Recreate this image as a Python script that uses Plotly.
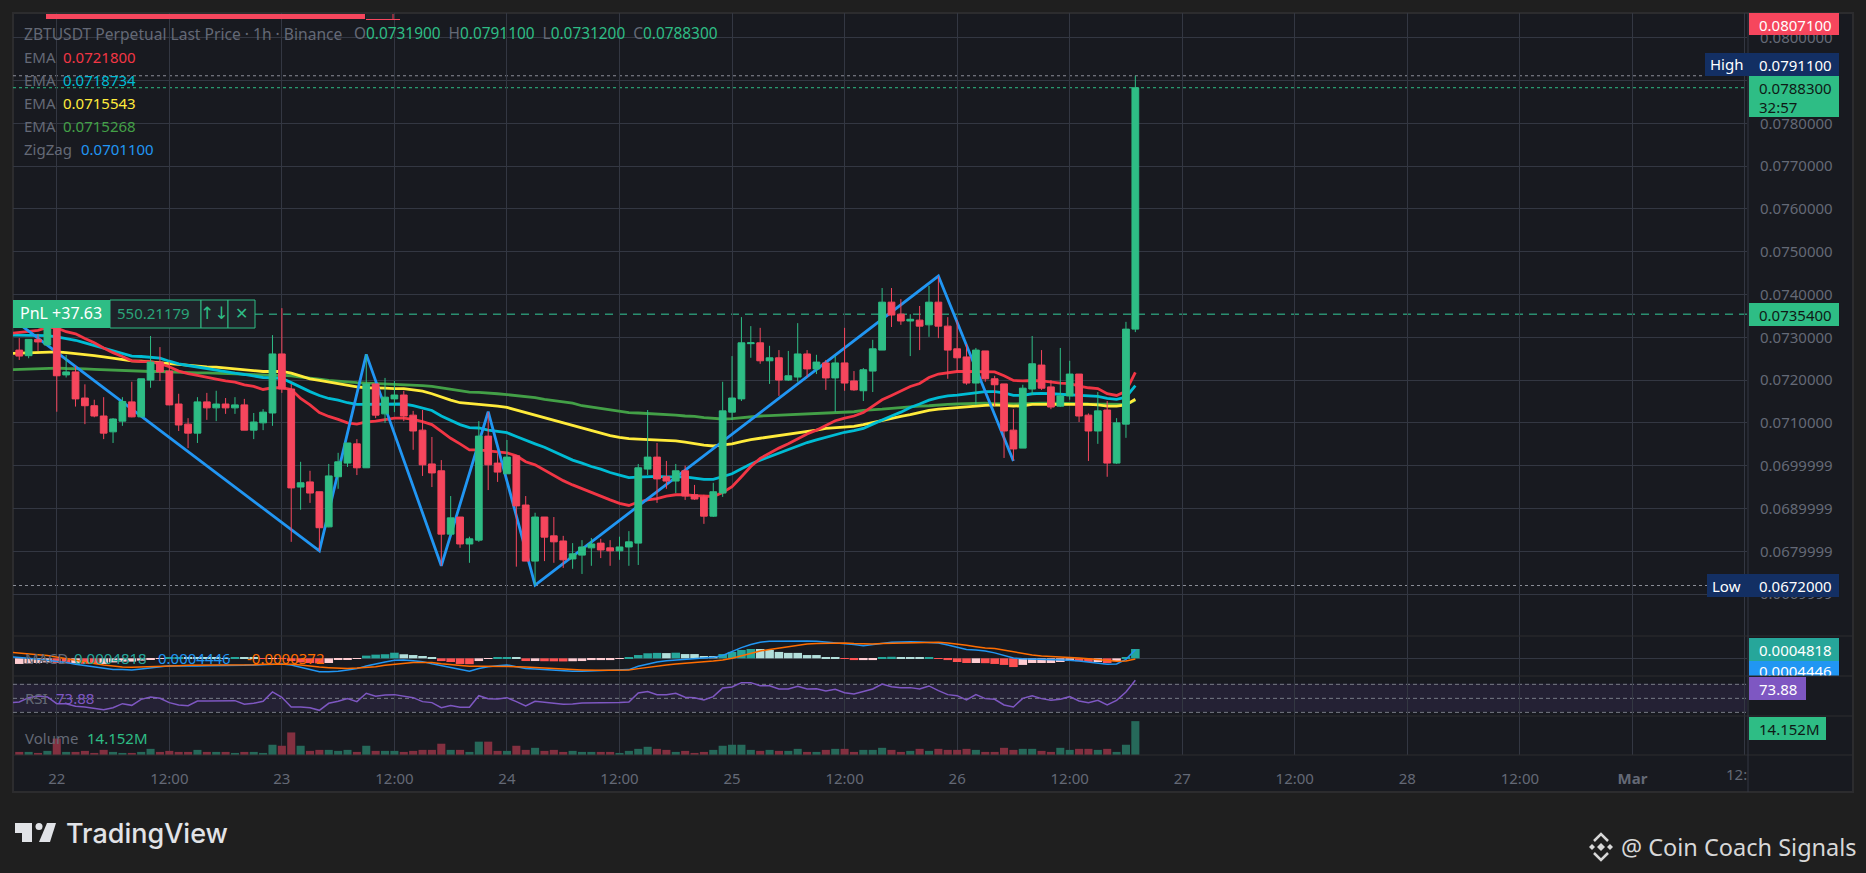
import numpy as np
import pandas as pd
import plotly.graph_objects as go

# prices below are in units of 0.00001
times = pd.date_range("2026-02-21 20:00", periods=120, freq="h")
# indicator lines also have one point left of the first visible candle
line_times = pd.date_range("2026-02-21 19:00", periods=121, freq="h")

open_p = [7270,7257,7295,7282,7330,7212,7219,7158,7140,7116,
          7079,7104,7149,7114,7200,7242,7221,7144,7097,7076,
          7149,7135,7144,7135,7142,7083,7100,7123,7261,7179,
          6950,6962,6939,6857,6974,7006,7051,6995,7191,7121,
          7156,7165,7118,7083,7004,6988,6840,6880,6817,6826,
          7069,7006,6981,7023,6908,6777,6880,6836,6824,6782,
          6791,6808,6819,6808,6801,6810,6819,6992,7020,6974,
          6964,6988,6932,6927,6882,6936,7125,7156,7285,7287,
          7245,7252,7200,7207,7261,7226,7240,7205,7240,7198,
          7175,7221,7270,7382,7354,7338,7340,7329,7382,7326,
          7273,7254,7193,7268,7203,7191,7083,7041,7179,7235,
          7184,7139,7163,7214,7118,7081,7130,7006,7097,7319]
close_p = [7256,7295,7289,7340,7210,7219,7156,7140,7116,7076,
           7109,7150,7114,7203,7242,7219,7142,7095,7076,7149,
           7135,7144,7135,7142,7083,7102,7125,7261,7179,6948,
           6960,6936,6855,6976,7009,7053,6995,7191,7118,7160,
           7165,7116,7081,7002,6983,6840,6878,6817,6829,7069,
           7002,6985,7020,6906,6777,6880,6833,6822,6780,6794,
           6810,6817,6803,6801,6810,6822,6995,7020,6969,6964,
           6988,6929,6922,6882,6939,7128,7158,7287,7287,7245,
           7252,7200,7210,7261,7226,7242,7205,7240,7193,7177,
           7224,7273,7382,7352,7338,7342,7326,7382,7326,7270,
           7252,7193,7270,7203,7189,7081,7039,7181,7238,7181,
           7137,7163,7214,7116,7081,7128,7006,7100,7319,7883]
high_p = [7298,7295,7308,7360,7345,7259,7233,7190,7154,7160,
          7111,7160,7196,7203,7303,7277,7243,7168,7111,7160,
          7170,7175,7158,7160,7156,7123,7132,7305,7368,7191,
          7009,6988,6939,7004,7030,7053,7062,7260,7191,7205,
          7198,7175,7128,7130,7067,7013,6929,6880,6834,7104,
          7125,7029,7060,7023,6929,6890,6880,6880,6836,6819,
          6826,6831,6829,6826,6834,6847,7004,7130,7053,7011,
          7004,7000,6955,6932,6960,7196,7256,7347,7326,7322,
          7280,7270,7268,7333,7270,7259,7247,7256,7322,7221,
          7228,7294,7415,7415,7389,7354,7373,7420,7442,7347,
          7340,7284,7275,7268,7210,7191,7132,7189,7303,7270,
          7200,7275,7245,7214,7122,7172,7151,7111,7336,7911]
low_p = [7247,7251,7268,7282,7126,7206,7138,7097,7113,7062,
         7053,7093,7113,7114,7182,7198,7141,7081,7041,7053,
         7107,7104,7121,7121,7083,7062,7083,7093,7170,6822,
         6897,6913,6801,6856,6946,6997,6978,6995,7111,7100,
         7125,7104,7037,6976,6950,6766,6836,6808,6773,6822,
         6943,6962,6981,6764,6777,6721,6777,6773,6761,6759,
         6747,6766,6784,6766,6780,6766,6768,6978,6913,6946,
         6936,6920,6920,6864,6880,6927,7107,7151,7252,7238,
         7191,7163,7198,7196,7207,7214,7177,7125,7175,7175,
         7151,7172,7270,7324,7329,7256,7270,7301,7298,7203,
         7219,7189,7142,7196,7139,7018,7012,7041,7165,7177,
         7132,7137,7154,7102,7011,7051,6974,7004,7065,7312]

ema_red = [7309,
           7311,7313,7316,7323,7322,7313,7308,7297,7287,7275,
           7264,7255,7245,7243,7243,7238,7231,7221,7215,7211,
           7206,7202,7198,7195,7189,7185,7178,7182,7182,7178,
           7157,7142,7124,7115,7108,7100,7097,7102,7104,7108,
           7111,7111,7108,7103,7096,7080,7064,7051,7037,7037,
           7035,7033,7030,7023,7009,7002,6990,6978,6965,6955,
           6946,6938,6929,6920,6912,6907,6915,6920,6923,6929,
           6932,6932,6930,6929,6928,6937,6951,6974,6998,7017,
           7030,7041,7051,7062,7074,7083,7094,7105,7111,7116,
           7124,7138,7154,7164,7175,7185,7192,7206,7214,7217,
           7220,7220,7220,7220,7219,7210,7199,7198,7199,7198,
           7195,7193,7192,7186,7182,7180,7168,7164,7174,7218]
ema_cyan = [7305,
            7305,7305,7305,7304,7301,7297,7293,7287,7281,7274,
            7268,7262,7256,7255,7253,7251,7244,7238,7234,7231,
            7227,7223,7219,7216,7213,7209,7206,7205,7204,7194,
            7183,7173,7164,7157,7153,7147,7143,7143,7143,7144,
            7144,7144,7140,7134,7129,7116,7106,7096,7089,7088,
            7083,7080,7077,7068,7059,7051,7043,7033,7023,7013,
            7006,6998,6992,6984,6978,6972,6973,6974,6975,6974,
            6974,6974,6971,6968,6968,6974,6981,6993,7004,7013,
            7021,7029,7037,7046,7054,7060,7066,7073,7078,7082,
            7087,7097,7107,7116,7125,7136,7144,7153,7159,7163,
            7165,7168,7171,7173,7173,7170,7164,7164,7168,7169,
            7168,7167,7166,7164,7164,7162,7157,7155,7160,7187]
ema_yellow = [7262,
              7263,7264,7265,7265,7266,7264,7262,7260,7257,7254,
              7251,7248,7245,7244,7242,7241,7239,7236,7234,7233,
              7231,7230,7228,7227,7225,7223,7220,7220,7220,7216,
              7210,7203,7199,7195,7192,7188,7184,7182,7182,7181,
              7180,7180,7177,7174,7168,7160,7153,7147,7145,7144,
              7141,7139,7136,7130,7123,7117,7111,7105,7099,7093,
              7087,7081,7076,7070,7066,7063,7062,7061,7060,7059,
              7058,7055,7051,7048,7046,7048,7051,7056,7061,7064,
              7067,7070,7073,7076,7080,7083,7087,7089,7090,7092,
              7096,7101,7106,7111,7115,7119,7124,7129,7132,7134,
              7136,7138,7139,7141,7142,7141,7139,7140,7143,7143,
              7143,7144,7144,7143,7143,7142,7139,7139,7142,7155]
ema_green = [7224,
             7225,7226,7227,7227,7228,7227,7227,7226,7225,7224,
             7224,7223,7221,7220,7220,7220,7219,7219,7218,7217,
             7217,7216,7215,7214,7213,7212,7211,7211,7211,7210,
             7207,7205,7202,7199,7197,7196,7194,7193,7192,7191,
             7190,7189,7189,7187,7185,7182,7178,7175,7172,7171,
             7170,7168,7166,7164,7161,7159,7155,7152,7149,7146,
             7140,7137,7134,7130,7127,7124,7123,7122,7121,7119,
             7118,7116,7115,7112,7110,7109,7110,7112,7115,7116,
             7117,7118,7118,7119,7120,7121,7122,7124,7125,7126,
             7129,7130,7132,7134,7136,7137,7139,7140,7142,7143,
             7144,7145,7146,7146,7145,7144,7144,7145,7146,7146,
             7146,7146,7146,7145,7144,7144,7143,7143,7143,7153]

zigzag_times = ["2026-02-21 18:00", "2026-02-23 04:00", "2026-02-23 09:00", "2026-02-23 17:00",
                "2026-02-23 22:00", "2026-02-24 03:00", "2026-02-25 22:00", "2026-02-26 06:00"]
zigzag_p = [7364, 6801, 7260, 6766, 7126, 6721, 7443, 7011]

# MACD pane, also in units of 0.00001
macd_hist = [-29,-26,-24,-21,-24,-26,-26,-28,-29,-29,
             -21,-17,-17,-12,-7,-3,2,3,3,3,
             2,2,1,3,3,2,-2,-2,-3,-14,
             -21,-24,-26,-24,-5,-5,-3,14,19,21,
             29,21,17,12,3,-14,-19,-29,-30,-14,
             -3,2,7,3,-14,-14,-15,-15.5,-16,-15,
             -14,-9,-9,-9,-3,2,17,26,28,27,
             29,22,22,12,12,22,33,43,48,48,
             43,33,28,28,17,17,7,7,-2,-9,
             -9,-9,7,8,7,7,3,7,-2,-9,
             -19,-24,-24,-25,-29,-34,-45,-34,-24,-24,
             -24,-19,-14,-15,-19,-19,-24,-14,2,48.18]
macd_line = [8,
             5,0,-5,-10,-15,-22,-31,-38,-45,-52,
             -57,-58,-60,-55,-50,-43,-38,-40,-41,-40,
             -38,-38,-36,-36,-36,-34,-33,-31,-29,-34,
             -45,-58,-69,-69,-67,-60,-53,-40,-28,-19,
             -10,-9,-12,-17,-28,-38,-46,-57,-67,-52,
             -43,-38,-34,-43,-52,-55,-58,-62,-65,-67,
             -67,-65,-65,-64,-62,-58,-41,-29,-19,-12,
             -9,-5,-3,0,5,15,36,55,71,83,
             88,89,89,91,89,88,84,81,77,71,
             65,72,79,83,84,86,84,83,79,69,
             57,46,43,38,28,15,2,-2,-3,-5,
             -7,-9,-10,-14,-19,-26,-31,-29,-5,44.46]
macd_signal = [31,
               28,24,19,14,7,-2,-10,-19,-28,-34,
               -40,-45,-46,-45,-43,-41,-40,-38,-36,-36,
               -36,-36,-34,-34,-34,-33,-31,-31,-29,-31,
               -34,-40,-45,-48,-50,-52,-50,-48,-43,-36,
               -31,-26,-22,-21,-22,-28,-33,-38,-41,-41,
               -41,-41,-41,-43,-45,-46,-50,-53,-57,-58,
               -60,-62,-62,-62,-62,-60,-53,-46,-40,-34,
               -29,-24,-21,-17,-14,-9,0,12,24,38,
               46,53,60,67,74,76,77,79,79,76,
               74,74,76,77,79,81,83,83,83,79,
               74,67,60,53,50,41,33,24,17,12,
               10,9,5,2,-2,-7,-12,-15,-14,-3.72]

rsi = [43.9,
       44.8,51.0,53.4,52.0,42.4,42.4,38.6,37.7,36.2,33.9,
       36.7,42.4,40.0,48.6,52.0,50.0,43.9,40.5,39.6,46.2,
       46.2,46.2,46.7,46.7,41.5,42.9,45.8,59.1,51.5,37.7,
       37.7,36.7,32.9,42.9,45.8,49.6,45.3,57.2,52.9,54.8,
       55.3,52.9,51.0,45.3,43.9,36.7,39.6,37.2,37.2,53.8,
       49.6,49.1,51.0,45.3,39.1,45.8,43.9,42.9,41.5,41.9,
       43.4,43.4,42.9,42.9,43.9,44.8,57.7,59.6,55.3,55.3,
       57.2,51.5,51.0,47.7,52.4,64.8,66.2,72.4,72.4,68.1,
       68.1,63.4,63.4,67.2,63.4,63.8,60.5,62.9,58.1,56.2,
       59.6,63.4,70.5,66.7,65.3,65.3,63.4,67.7,61.0,55.3,
       53.8,47.7,55.3,49.6,48.6,40.5,37.7,50.0,53.8,49.6,
       47.2,48.6,52.4,46.2,43.9,47.2,40.5,47.2,59.1,75.7]

volume = [1.29,1.29,0.86,1.72,6.86,1.29,1.29,1.72,0.86,2.14,
          1.29,0.86,0.86,1.29,2.57,1.29,1.72,1.29,1.29,2.14,
          1.29,1.29,1.29,0.86,1.29,1.29,0.86,4.29,3.86,9.43,
          3.86,1.72,2.14,2.14,1.72,2.14,1.29,3.86,1.72,1.72,
          1.72,1.29,1.72,2.14,2.14,4.72,2.14,2.14,1.29,5.58,
          5.58,1.72,1.72,3.86,2.14,3.00,1.72,2.14,1.29,1.72,
          1.29,1.29,1.29,1.29,0.86,1.72,2.57,3.43,2.57,2.14,
          1.29,1.72,0.86,1.29,2.14,3.86,4.29,4.29,2.14,1.72,
          2.14,1.72,1.72,2.57,1.29,1.29,2.14,2.57,2.57,1.29,
          2.14,2.14,3.00,2.14,1.29,1.72,2.57,1.72,2.57,2.14,
          2.14,2.57,2.14,1.29,1.29,3.00,2.14,2.57,2.57,1.72,
          1.29,3.00,2.14,2.57,2.57,2.14,2.57,1.29,4.29,14.152]

for arr in [open_p, close_p, high_p, low_p, macd_hist, volume]:
    assert len(arr) == 120, len(arr)
for arr in [ema_red, ema_cyan, ema_yellow, ema_green, macd_line, macd_signal, rsi]:
    assert len(arr) == 121, len(arr)

price_ticks = [0.080, 0.079, 0.078, 0.077, 0.076, 0.075, 0.074, 0.073, 0.072, 0.071,
               0.070, 0.069, 0.068, 0.067]
price_labels = ["0.0800000", "0.0790000", "0.0780000", "0.0770000", "0.0760000", "0.0750000",
                "0.0740000", "0.0730000", "0.0720000", "0.0710000", "0.0699999", "0.0689999",
                "0.0679999", "0.0669999"]
time_ticks = ["2026-02-22", "2026-02-22 12:00", "2026-02-23", "2026-02-23 12:00", "2026-02-24",
              "2026-02-24 12:00", "2026-02-25", "2026-02-25 12:00", "2026-02-26", "2026-02-26 12:00",
              "2026-02-27", "2026-02-27 12:00", "2026-02-28", "2026-02-28 12:00", "2026-03-01",
              "2026-03-01 12:00"]
time_labels = ["22", "12:00", "23", "12:00", "24", "12:00", "25", "12:00", "26", "12:00",
               "27", "12:00", "28", "12:00", "<b>Mar</b>", ""]

W, H = 1866, 873
FONT = "Noto Sans"
BG = "#181a20"
PAGE = "#1f1f1f"
GRID = "#333742"
FRAME = "#2c2c2e"
UP = "#2ebd85"
DOWN = "#f6465d"
MUTED = "#646976"
NAVY = "#132f63"
X_RANGE = ["2026-02-21 19:20", "2026-03-01 12:13"]
Y_RANGE = [0.06602, 0.080576]


def fx(px):
    return px / W


def fy(px):
    return 1 - px / H


def scaled(arr):
    return (np.array(arr) * 1e-5).tolist()


# pane edges in pixels
LEFT, RIGHT = 13, 1747
pane_main = [fy(636), fy(13)]
pane_macd = [fy(676), fy(636)]
pane_rsi = [fy(716), fy(676)]
pane_vol = [fy(755), fy(716)]

fig = go.Figure()

# lines first, candles go on an overlay axis so they sit on top of them
ema_sets = [(ema_green, "#43a047"), (ema_yellow, "#ffeb3b"), (ema_cyan, "#00bcd4"), (ema_red, "#f23645")]
for vals, col in ema_sets:
    fig.add_trace(go.Scatter(x=line_times, y=scaled(vals), mode="lines", line=dict(color=col, width=2.8)))
fig.add_trace(go.Scatter(x=zigzag_times, y=scaled(zigzag_p), mode="lines", line=dict(color="#2196f3", width=2.8)))

fig.add_trace(go.Candlestick(
    x=times, open=scaled(open_p), high=scaled(high_p), low=scaled(low_p), close=scaled(close_p),
    increasing=dict(line=dict(color=UP, width=1), fillcolor=UP),
    decreasing=dict(line=dict(color=DOWN, width=1), fillcolor=DOWN),
    whiskerwidth=0, yaxis="y6",
))

# histogram colour depends on sign and on the change from the bar before
hist_colors = []
for i, v in enumerate(macd_hist):
    prev = macd_hist[i - 1] if i else v
    if v >= 0:
        hist_colors.append("#26a69a" if v > prev else "#b2dfdb")
    else:
        hist_colors.append("#ff5252" if v < prev else "#ffcdd2")
fig.add_trace(go.Bar(x=times, y=scaled(macd_hist), marker=dict(color=hist_colors, line=dict(width=0)),
                     width=3300000, xaxis="x2", yaxis="y2"))
fig.add_trace(go.Scatter(x=line_times, y=scaled(macd_line), mode="lines", line=dict(color="#2196f3", width=1.5),
                         xaxis="x2", yaxis="y2"))
fig.add_trace(go.Scatter(x=line_times, y=scaled(macd_signal), mode="lines", line=dict(color="#ff6d00", width=1.5),
                         xaxis="x2", yaxis="y2"))

fig.add_trace(go.Scatter(x=line_times, y=rsi, mode="lines", line=dict(color="#7e57c2", width=1.5),
                         xaxis="x3", yaxis="y3"))

vol_colors = ["#26695a" if c >= o else "#833040" for o, c in zip(open_p, close_p)]
fig.add_trace(go.Bar(x=times, y=volume, marker=dict(color=vol_colors, line=dict(width=0)),
                     width=3100000, xaxis="x4", yaxis="y4"))

# the blue MACD tag is cut by the pane edge, so its text goes on a clipped axis of its own
fig.add_trace(go.Scatter(x=[10], y=[-0.000755], mode="text", text=["0.0004446"], textposition="middle right",
                         textfont=dict(family=FONT, size=15, color="#ffffff"), cliponaxis=True,
                         xaxis="x5", yaxis="y5"))

shapes = []


def rect(x0, y0, x1, y1, fill, line=None, layer="above"):
    shapes.append(dict(type="rect", xref="paper", yref="paper", x0=fx(x0), x1=fx(x1), y0=fy(y0), y1=fy(y1),
                       fillcolor=fill, line=dict(color=line or fill, width=1 if line else 0), layer=layer))


def hline(x0, x1, y, color, dash="solid", width=1, yref="y", layer="below"):
    shapes.append(dict(type="line", xref="paper", yref=yref, x0=fx(x0), x1=fx(x1), y0=y, y1=y,
                       line=dict(color=color, width=width, dash=dash), layer=layer))


def path(d, fill=None, line=None, width=0):
    # d is given in pixels
    parts = []
    for tok in d.split():
        if "," in tok:
            a, b = tok.split(",")
            parts.append(f"{fx(float(a)):.5f},{fy(float(b)):.5f}")
        else:
            parts.append(tok)
    shapes.append(dict(type="path", xref="paper", yref="paper", path=" ".join(parts),
                       fillcolor=fill or "rgba(0,0,0,0)", line=dict(color=line or "rgba(0,0,0,0)", width=width),
                       layer="above"))


# chart frame
rect(13, 13, 1853, 792, BG, FRAME, layer="below")
shapes[-1]["line"]["width"] = 2

# RSI band and levels
shapes.append(dict(type="rect", xref="paper", yref="y3", x0=fx(LEFT), x1=fx(RIGHT), y0=31, y1=71,
                   fillcolor="rgba(126,87,194,0.12)", line=dict(width=0), layer="below"))
for lvl in [70, 50, 30]:
    hline(LEFT, RIGHT, lvl, "#787b86", dash="4px,3px", yref="y3")

# price level lines
hline(LEFT, 1705, 0.07911, "#8a8d96", dash="dot")
hline(LEFT, RIGHT, 0.07883, UP, dash="dot")
hline(LEFT, 1707, 0.0672, "#8a8d96", dash="dot")
hline(255, RIGHT, 0.07354, "#2a8f70", dash="8px,6px", width=1.5)

# pane separators and price axis line
for y in [636, 676, 716, 755]:
    rect(13, y - 0.5, 1853, y + 0.5, FRAME, layer="above")
rect(1747.5, 13, 1748.5, 792, GRID, layer="above")

# top strip of the cut off order label
rect(46, 14, 365, 19, DOWN)
rect(366, 14, 392, 19, "#1e2329")
rect(366, 19, 400, 20, DOWN)
rect(392.5, 14, 393.5, 20, DOWN)

# price tags
rect(1749, 13, 1839, 35, DOWN)
rect(1705, 53, 1839, 76, NAVY)
rect(1749, 76, 1839, 117, UP)
rect(1749, 303, 1839, 326, UP)
rect(1707, 574, 1839, 597, NAVY)
rect(1749, 638, 1839, 661, "#26a69a")
rect(1749, 661, 1839, 676, "#2196f3", layer="below")
rect(1749, 677, 1806, 700, "#7e57c2")
rect(1749, 717, 1826, 740, UP)

# position box
rect(13, 300, 110, 328, UP)
rect(110, 300, 201, 328, "#1e2329", UP)
rect(201, 300, 228, 328, "#1e2329", UP)
rect(228, 300, 255, 328, "#1e2329", UP)

# TradingView mark
path("M 15,823 L 32,823 L 32,842 L 22,842 L 22,833 L 15,833 Z", fill="#e1e3e7")
path("M 47,823 L 56,823 L 50,842 L 39,842 Z", fill="#e1e3e7")
shapes.append(dict(type="circle", xref="paper", yref="paper", x0=fx(35.5), x1=fx(42.5), y0=fy(830), y1=fy(823),
                   fillcolor="#e1e3e7", line=dict(width=0), layer="above"))

# Binance mark next to the author name
path("M 1601,843 L 1605,847 L 1601,851 L 1597,847 Z", fill="#d8d8d8")
path("M 1592,844 L 1595,847 L 1592,850 L 1589,847 Z", fill="#d8d8d8")
path("M 1610,844 L 1613,847 L 1610,850 L 1607,847 Z", fill="#d8d8d8")
path("M 1594,841 L 1601,834 L 1608,841", line="#d8d8d8", width=2.5)
path("M 1594,853 L 1601,860 L 1608,853", line="#d8d8d8", width=2.5)

annotations = []


def label(x, y, text, color=MUTED, size=15, anchor="left", family=FONT, weight=None):
    font = dict(family=family, size=size, color=color)
    if weight:
        font["weight"] = weight
    annotations.append(dict(xref="paper", yref="paper", x=fx(x), y=fy(y), text=text, showarrow=False,
                            xanchor=anchor, yanchor="middle", font=font, borderpad=0, borderwidth=0))


# header legend
label(24, 34, "ZBTUSDT Perpetual Last Price · 1h · Binance", MUTED, size=15.6)
ohlc_bits = [("O", "0.0731900"), ("H", "0.0791100"), ("L", "0.0731200"), ("C", "0.0788300")]
ohlc_text = "  ".join(f"{k}<span style='color:{UP}'>{v}</span>" for k, v in ohlc_bits)
label(354, 34, ohlc_text, MUTED, size=15.4)

legend_rows = [("EMA", "0.0721800", "#f23645", 57, 63), ("EMA", "0.0718734", "#00bcd4", 80, 63),
               ("EMA", "0.0715543", "#ffeb3b", 103, 63), ("EMA", "0.0715268", "#43a047", 126, 63),
               ("ZigZag", "0.0701100", "#2196f3", 149, 81)]
for name, val, col, y, vx in legend_rows:
    label(24, y, name, MUTED)
    label(vx, y, val, col)

label(25, 658, "MACD", MUTED)
label(74, 658, "0.0004818", "#26a69a")
label(158, 658, "0.0004446", "#2196f3")
label(247, 658, "-0.0000372", "#ff6d00")
label(25, 698, "RSI", MUTED)
label(56, 698, "73.88", "#7e57c2")
label(25, 738, "Volume", MUTED)
label(87, 738, "14.152M", UP)

# right hand tags
label(1759, 25, "0.0807100", "#ffffff")
label(1710, 64, "High", "#ffffff")
label(1759, 65, "0.0791100", "#ffffff")
label(1759, 88, "0.0788300", "#0e1a16")
label(1759, 107, "32:57", "#0e1a16")
label(1759, 315, "0.0735400", "#0e1a16")
label(1712, 586, "Low", "#ffffff")
label(1759, 586, "0.0672000", "#ffffff")
label(1759, 650, "0.0004818", "#ffffff")
label(1759, 689, "73.88", "#ffffff")
label(1759, 729, "14.152M", "#0e1a16")

# position box text
label(20, 313, "PnL +37.63", "#ffffff", size=16)
label(117, 313, "550.21179", "#2aa57a", size=15)
label(214, 313, "↑↓", UP, size=17, anchor="center", family="DejaVu Sans")
label(241, 313, "✕", UP, size=16, anchor="center", family="DejaVu Sans")

# time axis end and footer
label(1747, 774, "12:", MUTED, anchor="right")
label(66, 833, "TradingView", "#e1e3e7", size=27, family="Inter", weight=500)
label(1621, 847, "@ Coin Coach Signals", "#d8d8d8", size=23.5)

x_common = dict(range=X_RANGE, domain=[fx(LEFT), fx(RIGHT)], type="date", tickmode="array",
                tickvals=time_ticks, ticktext=time_labels, showgrid=True, gridcolor=GRID, gridwidth=1,
                zeroline=False, showline=False, showticklabels=False, ticks="", rangeslider=dict(visible=False))
y_hidden = dict(showgrid=False, zeroline=False, showticklabels=False, ticks="", showline=False, fixedrange=True)

fig.update_layout(
    width=W, height=H, autosize=False,
    margin=dict(l=0, r=0, t=0, b=0, pad=0),
    paper_bgcolor=PAGE, plot_bgcolor="rgba(0,0,0,0)",
    showlegend=False, hovermode=False, barmode="overlay",
    boxmode="group", boxgap=0.28, boxgroupgap=0,
    shapes=shapes, annotations=annotations,
    xaxis=dict(x_common, anchor="y"),
    xaxis2=dict(x_common, anchor="y2"),
    xaxis3=dict(x_common, anchor="y3"),
    xaxis4=dict(x_common, anchor="y4", showticklabels=True, ticks="outside", ticklen=10,
                tickcolor="rgba(0,0,0,0)", tickfont=dict(family=FONT, size=15, color=MUTED), tickangle=0),
    xaxis5=dict(domain=[fx(1749), fx(1839)], range=[0, 90], visible=False, anchor="y5"),
    yaxis=dict(domain=pane_main, range=Y_RANGE, side="right", anchor="x", tickmode="array",
               tickvals=price_ticks, ticktext=price_labels, showgrid=True, gridcolor=GRID, gridwidth=1,
               zeroline=False, ticks="outside", ticklen=9, tickcolor="rgba(0,0,0,0)",
               tickfont=dict(family=FONT, size=15, color=MUTED)),
    yaxis6=dict(y_hidden, range=Y_RANGE, overlaying="y", anchor="x", side="right"),
    yaxis2=dict(y_hidden, domain=pane_macd, range=[-0.00091, 0.00115], anchor="x2", tickmode="array",
                tickvals=[0], showgrid=True, gridcolor=GRID),
    yaxis3=dict(y_hidden, domain=pane_rsi, range=[24.8, 81.9], anchor="x3"),
    yaxis4=dict(y_hidden, domain=pane_vol, range=[0, 16.3], anchor="x4"),
    yaxis5=dict(y_hidden, domain=pane_macd, range=[-0.00091, 0.00115], anchor="x5"),
)

fig.write_html("out.html", config=dict(displayModeBar=False),
               post_script="document.body.style.margin='0';document.body.style.overflow='hidden';")
